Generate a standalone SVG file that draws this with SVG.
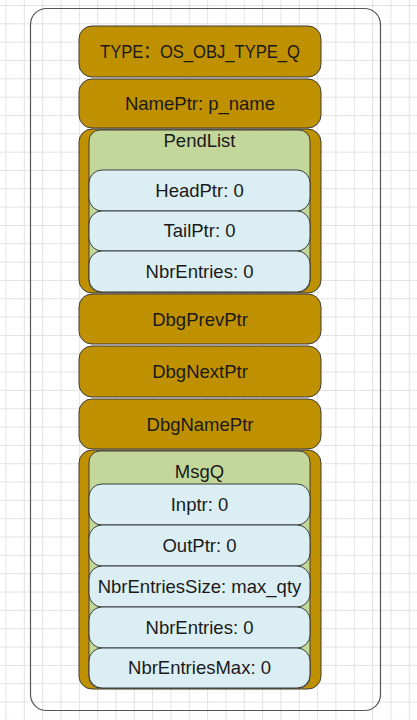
<svg xmlns="http://www.w3.org/2000/svg" width="417" height="720" viewBox="0 0 417 720">
<defs>
<pattern id="grid" x="5.5" y="5" width="18.33" height="18.33" patternUnits="userSpaceOnUse">
<path d="M0 0.5 H18.33 M0.5 0 V18.33" fill="none" stroke="#e2e2e2" stroke-width="1"/>
</pattern>
<style>
.gold{fill:#BF9000;stroke:#3d3d3d;stroke-width:1}
.green{fill:#C4D79B;stroke:#3d3d3d;stroke-width:1}
.blue{fill:#DAEEF3;stroke:#3d3d3d;stroke-width:1}
.t{font-family:"Liberation Sans","Noto Sans CJK SC",sans-serif;font-size:18.5px;fill:#1a1a1a;text-anchor:middle}
</style>
</defs>
<rect width="417" height="720" fill="#ffffff"/>
<rect width="417" height="720" fill="url(#grid)"/>
<rect x="30.5" y="8.5" width="350" height="702" rx="16" fill="none" stroke="#555555" stroke-width="1.2"/>
<g id="connectors"/>
<g id="n_type">
<rect class="gold" x="79" y="26" width="242" height="51" rx="13"/>
<text class="t" x="200" y="58" textLength="200" lengthAdjust="spacingAndGlyphs">TYPE：OS_OBJ_TYPE_Q</text>
</g>
<g id="n_nameptr">
<rect class="gold" x="79" y="79" width="242" height="49" rx="13"/>
<text class="t" x="200" y="110">NamePtr: p_name</text>
</g>
<g id="n_pendlist">
<rect class="gold" x="79" y="129" width="242" height="164" rx="13"/>
<rect class="green" x="89" y="130" width="221" height="162" rx="11"/>
<text class="t" x="199.5" y="147">PendList</text>
<g id="n_headptr">
<rect class="blue" x="89" y="170" width="221" height="41" rx="13"/>
<text class="t" x="199.5" y="197">HeadPtr: 0</text>
</g>
<g id="n_tailptr">
<rect class="blue" x="89" y="211" width="221" height="40" rx="13"/>
<text class="t" x="199.5" y="237">TailPtr: 0</text>
</g>
<g id="n_pend_nbrentries">
<rect class="blue" x="89" y="251" width="221" height="41" rx="13"/>
<text class="t" x="199.5" y="277.5">NbrEntries: 0</text>
</g>
</g>
<g id="n_dbgprevptr">
<rect class="gold" x="79" y="294" width="242" height="50" rx="13"/>
<text class="t" x="200" y="325.5">DbgPrevPtr</text>
</g>
<g id="n_dbgnextptr">
<rect class="gold" x="79" y="346" width="242" height="51" rx="13"/>
<text class="t" x="200" y="378">DbgNextPtr</text>
</g>
<g id="n_dbgnameptr">
<rect class="gold" x="79" y="399" width="242" height="50" rx="13"/>
<text class="t" x="200" y="430.5">DbgNamePtr</text>
</g>
<g id="n_msgq">
<rect class="gold" x="79" y="450" width="242" height="239" rx="13"/>
<rect class="green" x="89" y="451" width="221" height="237" rx="11"/>
<text class="t" x="199.5" y="478">MsgQ</text>
<g id="n_inptr">
<rect class="blue" x="89" y="484" width="221" height="41" rx="13"/>
<text class="t" x="199.5" y="511">Inptr: 0</text>
</g>
<g id="n_outptr">
<rect class="blue" x="89" y="525" width="221" height="41" rx="13"/>
<text class="t" x="199.5" y="552">OutPtr: 0</text>
</g>
<g id="n_nbrentriessize">
<rect class="blue" x="89" y="566" width="221" height="41" rx="13"/>
<text class="t" x="199.5" y="593">NbrEntriesSize: max_qty</text>
</g>
<g id="n_msgq_nbrentries">
<rect class="blue" x="89" y="607" width="221" height="41" rx="13"/>
<text class="t" x="199.5" y="634">NbrEntries: 0</text>
</g>
<g id="n_nbrentriesmax">
<rect class="blue" x="89" y="648" width="221" height="40" rx="13"/>
<text class="t" x="199.5" y="674">NbrEntriesMax: 0</text>
</g>
</g>
</svg>
